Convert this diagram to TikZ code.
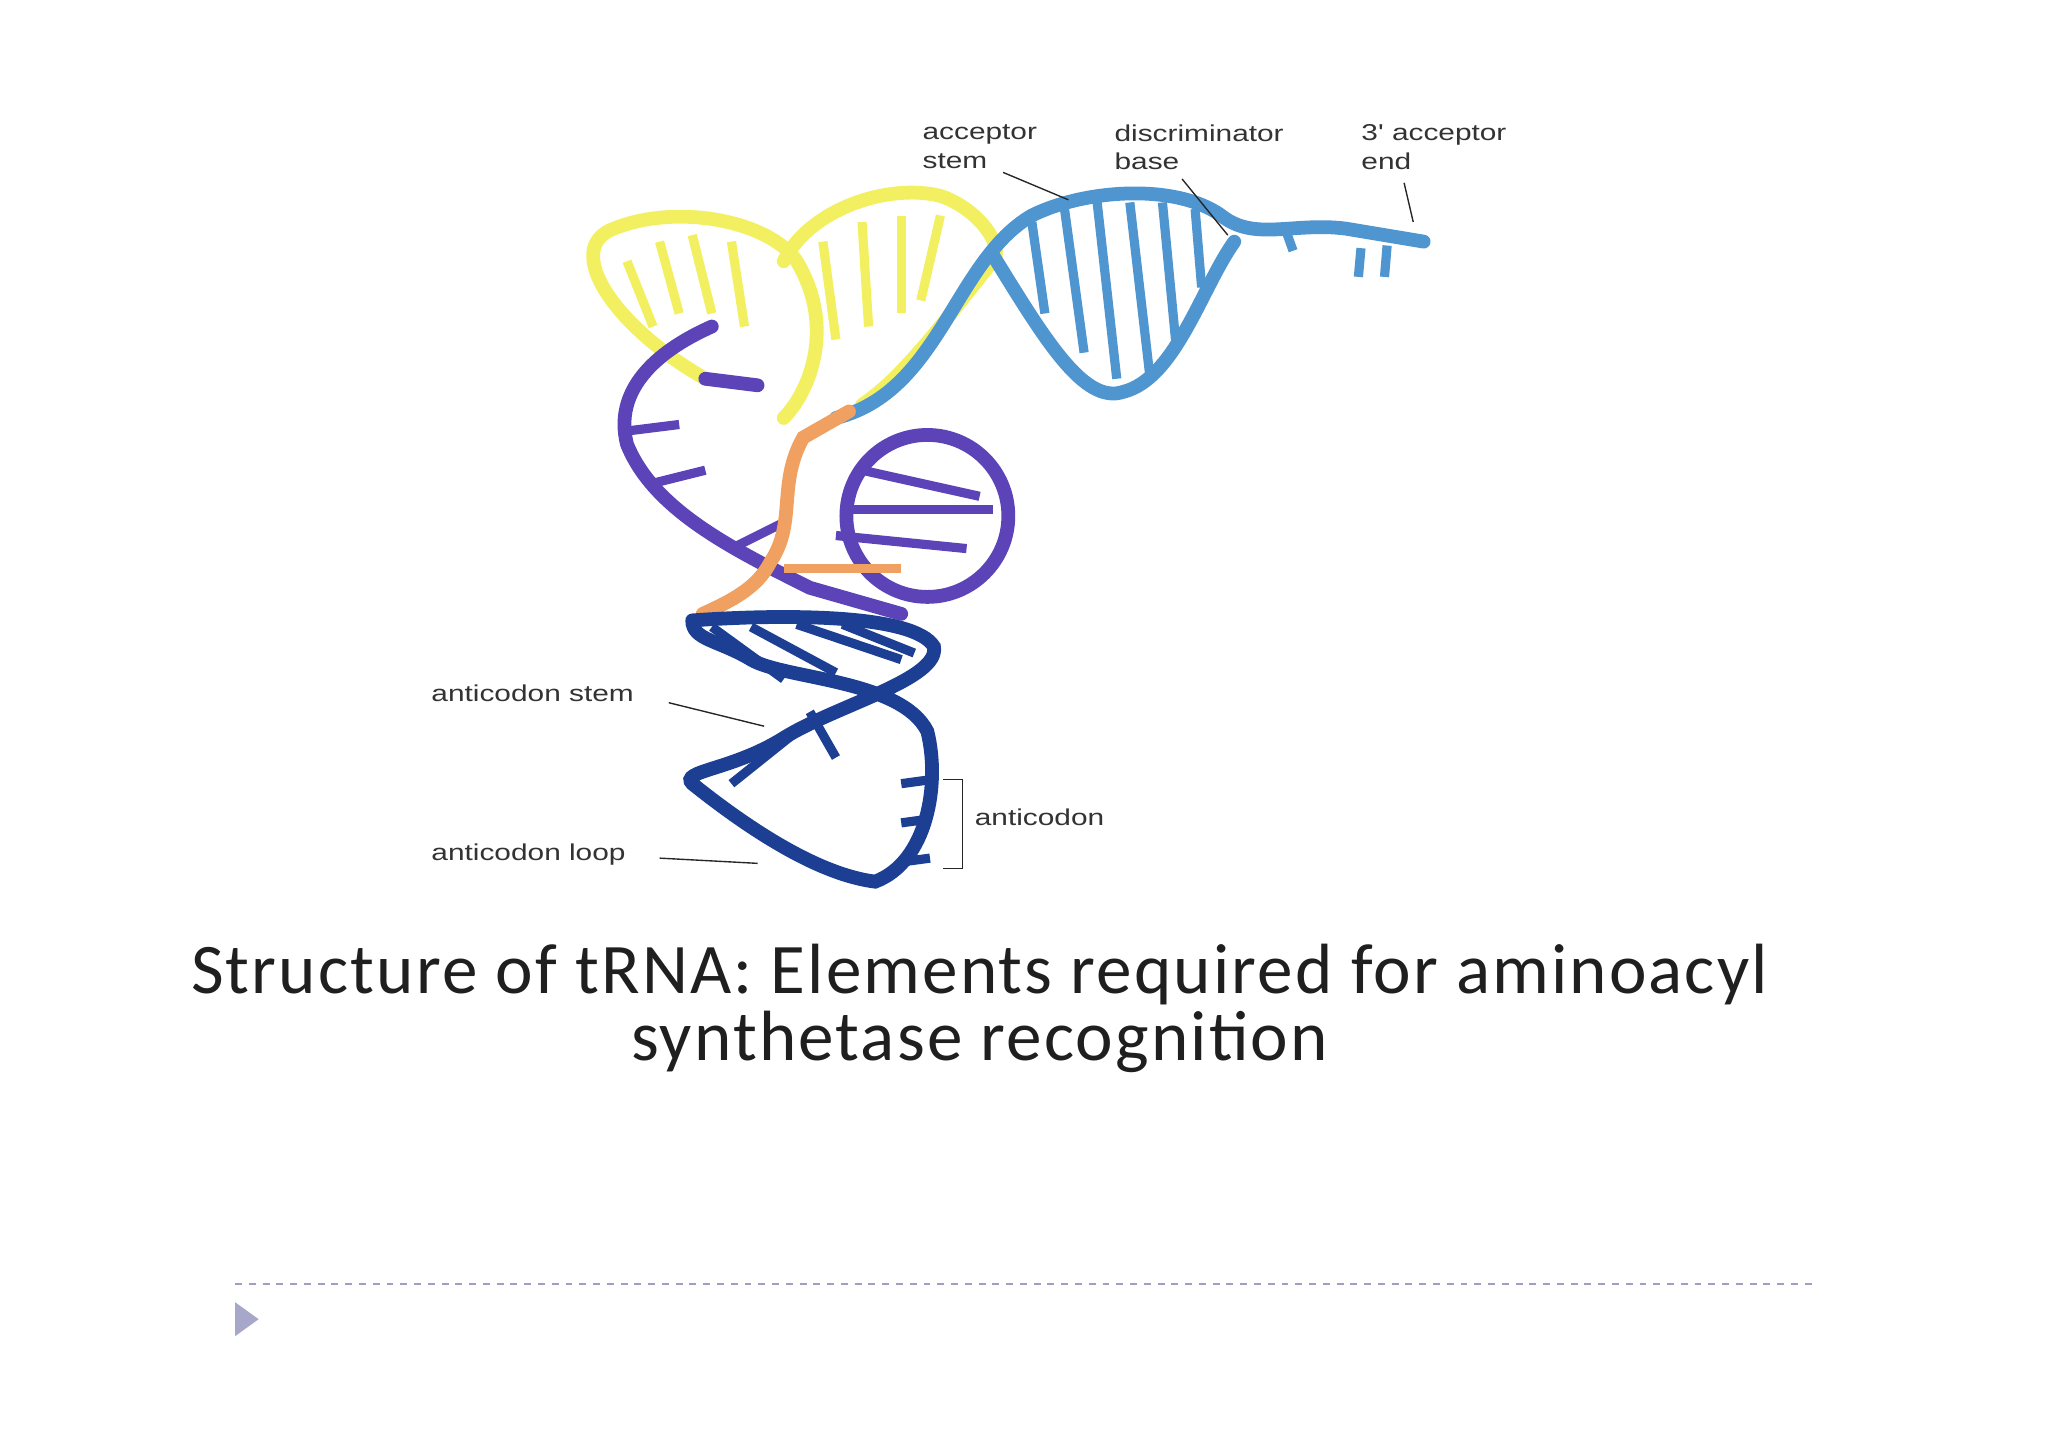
\documentclass[tikz,border=0pt]{standalone}
\usepackage{fontspec}
\setmainfont{Liberation Sans}
\newfontfamily\titlefont[LetterSpace=3]{Carlito}
\newfontfamily\lblfont[FakeStretch=1.3]{Liberation Sans}
\definecolor{cblu}{HTML}{4F95D0}
\definecolor{cpur}{HTML}{5C44B8}
\definecolor{cdkb}{HTML}{1C3F93}
\definecolor{cyel}{HTML}{F2F060}
\definecolor{cora}{HTML}{F0A060}
\begin{document}
\begin{tikzpicture}[x=0.02cm,y=-0.02cm,
  lbl/.style={font=\lblfont\fontsize{10}{12.5}\selectfont,text=black!80,align=left,anchor=north west,inner sep=0},
  ptr/.style={black!85,line width=0.6pt},
  yel/.style={draw=cyel,line width=6pt,line cap=round},
  yelr/.style={draw=cyel,line width=4pt},
  blu/.style={draw=cblu,line width=6pt,line cap=round},
  blur/.style={draw=cblu,line width=4pt},
  pur/.style={draw=cpur,line width=6pt,line cap=round},
  purr/.style={draw=cpur,line width=4pt},
  ora/.style={draw=cora,line width=6pt,line cap=round},
  dkb/.style={draw=cdkb,line width=6pt,line cap=round},
  dkbr/.style={draw=cdkb,line width=4pt}]
\useasboundingbox (0,0) rectangle (1568,1108);
\fill[white] (0,0) rectangle (1568,1108);
% yellow loops
\draw[yel] (540,290) .. controls (470,250) and (430,190) .. (470,175) .. controls (520,155) and (590,170) .. (610,200) .. controls (640,250) and (620,300) .. (600,320);
\draw[yel] (600,200) .. controls (620,160) and (680,140) .. (720,150) .. controls (750,160) and (770,190) .. (760,200) .. controls (720,250) and (690,290) .. (660,310);
\foreach \a/\b in {{(480,200)/(500,250)},{(505,185)/(520,240)},{(530,180)/(545,240)},{(560,185)/(570,250)},{(630,185)/(640,260)},{(660,170)/(665,250)},{(690,165)/(690,240)},{(720,165)/(705,230)}}
  \draw[yelr] \a -- \b;
% blue acceptor
\draw[blu] (640,320) .. controls (720,300) and (730,200) .. (790,165) .. controls (830,145) and (900,140) .. (935,165) .. controls (960,185) and (990,170) .. (1030,175) -- (1090,185);
\draw[blu] (760,195) .. controls (800,260) and (830,310) .. (860,300) .. controls (900,290) and (920,220) .. (945,185);
\foreach \a/\b in {{(790,170)/(800,240)},{(815,160)/(830,270)},{(840,155)/(855,290)},{(865,155)/(880,285)},{(890,155)/(900,260)},{(915,160)/(920,220)}}
  \draw[blur] \a -- \b;
\draw[blur] (1042,190) -- (1040,212);
\draw[blur] (1062,188) -- (1060,212);
\draw[blur] (985,178) -- (990,192);
% purple
\draw[pur] (545,250) .. controls (500,270) and (470,300) .. (480,340) .. controls (500,390) and (560,420) .. (620,450) -- (690,470);
\draw[pur] (710,395) circle (62);
\draw[pur] (540,290) -- (580,295);
\foreach \a/\b in {{(480,330)/(520,325)},{(500,370)/(540,360)},{(560,420)/(600,400)},{(650,390)/(760,390)},{(660,360)/(750,380)},{(640,410)/(740,420)}}
  \draw[purr] \a -- \b;
% orange
\draw[ora] (650,315) -- (615,335) .. controls (595,370) and (610,400) .. (590,430) .. controls (580,450) and (560,460) .. (538,470);
\draw[draw=cora,line width=4pt] (600,435) -- (690,435);
% dark blue anticodon
\draw[dkb] (530,475) .. controls (600,470) and (700,470) .. (715,495) .. controls (720,520) and (640,540) .. (600,565) .. controls (560,590) and (520,590) .. (530,600) .. controls (580,640) and (630,670) .. (670,675) .. controls (710,660) and (720,600) .. (710,560) .. controls (690,520) and (600,520) .. (575,505) .. controls (550,490) and (530,490) .. (530,475);
\foreach \a/\b in {{(545,480)/(600,520)},{(575,480)/(640,515)},{(610,478)/(690,505)},{(645,478)/(700,500)},{(560,600)/(610,560)},{(620,545)/(640,580)}}
  \draw[dkbr] \a -- \b;
\foreach \y in {600,630,660} \draw[dkbr] (690,\y) -- (712,\y-3);
% labels
\node[lbl] (acc) at (706,95) {acceptor\\stem};
\draw[ptr] (768,132) -- (818,153);
\node[lbl] (dis) at (853,95) {discriminator\\base};
\draw[ptr] (905,137) -- (940,180);
\node[lbl] (end) at (1042,95) {3' acceptor\\end};
\draw[ptr] (1075,140) -- (1082,170);
\node[lbl] (stem) at (330,524) {anticodon stem};
\draw[ptr] (512,538) -- (585,556);
\node[lbl] (loop) at (330,646) {anticodon loop};
\draw[ptr] (505,657) -- (580,661);
\node[lbl] (ac) at (746,619) {anticodon};
\draw[ptr] (722,597) -- (737,597) -- (737,665) -- (722,665);
% title
\node[font=\titlefont\fontsize{31}{29.5}\selectfont,align=center,text=black!88] (title) at (750,772) {Structure of tRNA: Elements required for aminoacyl\\synthetase recognition};
% footer
\draw[blue!25!gray!60,dashed,line width=0.8pt] (180,983) -- (1388,983);
\fill[blue!25!gray!55] (180,997) -- (198,1010) -- (180,1023) -- cycle;
\end{tikzpicture}
\end{document}
